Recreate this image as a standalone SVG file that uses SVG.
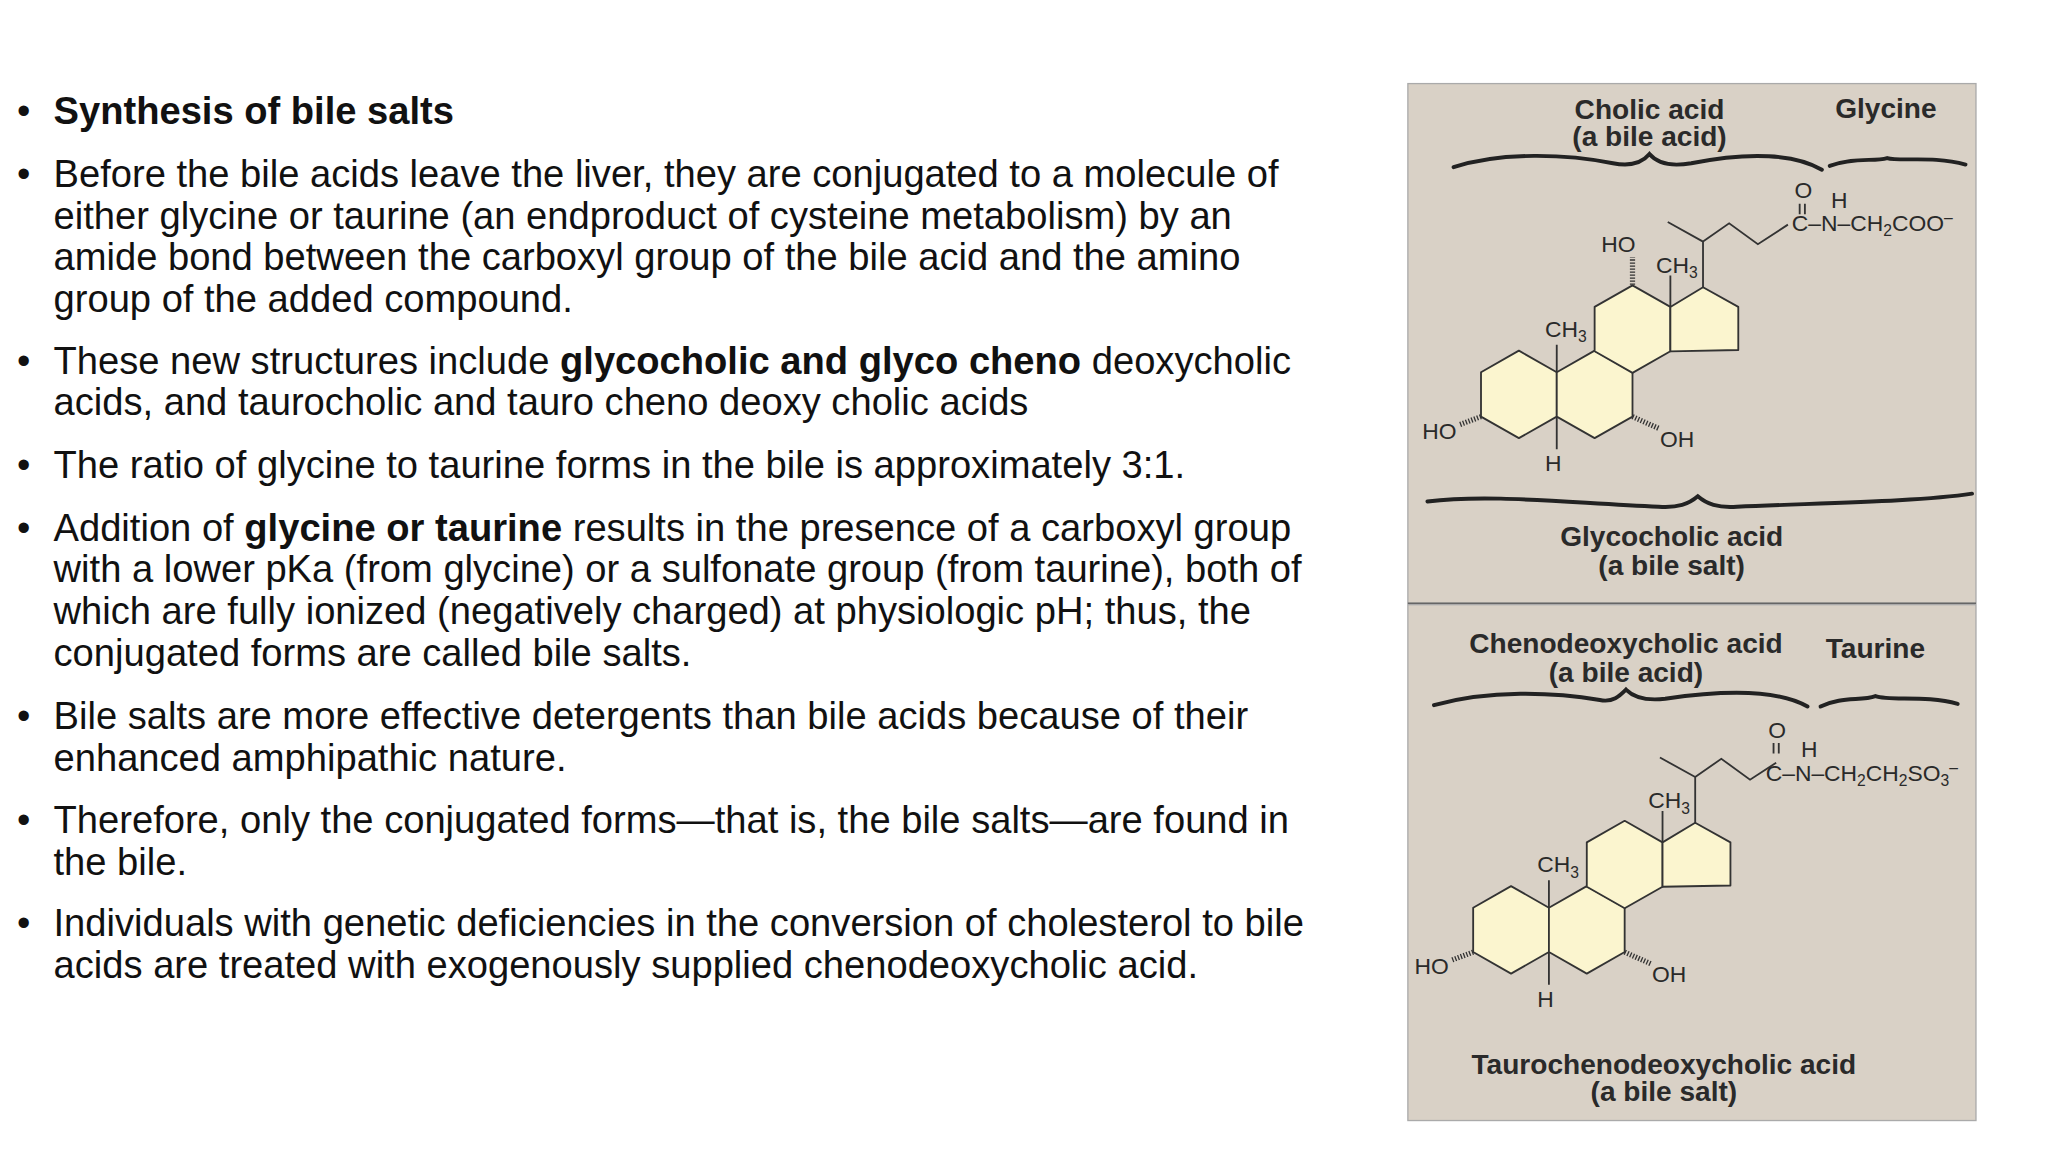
<svg xmlns="http://www.w3.org/2000/svg" width="2048" height="1152" viewBox="0 0 2048 1152">
<style>
.t{font-family:"Liberation Sans",Arial,sans-serif;font-size:29.2px;fill:#111}
.b{font-weight:bold}
.lb{font-family:"Liberation Sans",Arial,sans-serif;font-size:21.5px;font-weight:bold;fill:#2a2a2a;text-anchor:middle}
.ch{font-family:"Liberation Sans",Arial,sans-serif;font-size:17.5px;fill:#2a2a2a}
.sm{font-size:12px}
.ring{fill:#fbf5cf;stroke:#333;stroke-width:1.4;stroke-linejoin:round}
.bd{fill:none;stroke:#333;stroke-width:1.4}
.hash{fill:none;stroke:#333;stroke-width:4;stroke-dasharray:1 1.3}
.br{fill:none;stroke:#222;stroke-width:3;stroke-linecap:round}
</style>
<rect width="2048" height="1152" fill="#fff"/>
<g transform="scale(1.306)">
<g id="text">
<text class="t" x="13" y="95">•</text><text class="t b" x="41" y="95">Synthesis of bile salts</text>
<text class="t" x="13" y="143">•</text>
<text class="t" x="41" y="143">Before the bile acids leave the liver, they are conjugated to a molecule of</text>
<text class="t" x="41" y="175">either glycine or taurine (an endproduct of cysteine metabolism) by an</text>
<text class="t" x="41" y="207">amide bond between the carboxyl group of the bile acid and the amino</text>
<text class="t" x="41" y="239">group of the added compound.</text>
<text class="t" x="13" y="286">•</text>
<text class="t" x="41" y="286">These new structures include <tspan class="b">glycocholic and glyco cheno</tspan> deoxycholic</text>
<text class="t" x="41" y="318">acids, and taurocholic and tauro cheno deoxy cholic acids</text>
<text class="t" x="13" y="366">•</text>
<text class="t" x="41" y="366">The ratio of glycine to taurine forms in the bile is approximately 3:1.</text>
<text class="t" x="13" y="414">•</text>
<text class="t" x="41" y="414">Addition of <tspan class="b">glycine or taurine</tspan> results in the presence of a carboxyl group</text>
<text class="t" x="41" y="446">with a lower pKa (from glycine) or a sulfonate group (from taurine), both of</text>
<text class="t" x="41" y="478">which are fully ionized (negatively charged) at physiologic pH; thus, the</text>
<text class="t" x="41" y="510">conjugated forms are called bile salts.</text>
<text class="t" x="13" y="558">•</text>
<text class="t" x="41" y="558">Bile salts are more effective detergents than bile acids because of their</text>
<text class="t" x="41" y="590">enhanced amphipathic nature.</text>
<text class="t" x="13" y="638">•</text>
<text class="t" x="41" y="638">Therefore, only the conjugated forms—that is, the bile salts—are found in</text>
<text class="t" x="41" y="670">the bile.</text>
<text class="t" x="13" y="717">•</text>
<text class="t" x="41" y="717">Individuals with genetic deficiencies in the conversion of cholesterol to bile</text>
<text class="t" x="41" y="749">acids are treated with exogenously supplied chenodeoxycholic acid.</text>
</g>
<g id="panel-top">
<rect x="1078" y="64" width="435" height="398" fill="#d9d1c6" stroke="#aaa" stroke-width="1"/>
<text class="lb" x="1263" y="91">Cholic acid</text>
<text class="lb" x="1263" y="112">(a bile acid)</text>
<text class="lb" x="1444" y="90">Glycine</text>
<path class="br" d="M1113,128 C1150,116 1200,118 1235,125 C1250,128 1258,124 1263,118 C1268,124 1278,128 1295,125 C1340,116 1375,118 1395,130"/>
<path class="br" d="M1401,127 C1420,120 1435,124 1445,121 C1455,124 1480,119 1505,126"/>
<g id="steroid1">
<polygon class="ring" points="1163,268.5 1192,285 1192,319 1163,335.5 1134,319 1134,285"/>
<polygon class="ring" points="1221,268.5 1250,285 1250,319 1221,335.5 1192,319 1192,285"/>
<polygon class="ring" points="1250,218.5 1279,235 1279,269 1250,285.5 1221,269 1221,235"/>
<polygon class="ring" points="1279,235 1304,220 1331,235 1331,268 1279,269"/>
<path class="bd" d="M1279,235 V211 M1192,285 V264 M1192,319 V344 M1304,220 V185 L1277,170 M1304,185 L1324,171 L1346,187 L1369,172"/>
<path class="hash" d="M1250,218 V197 M1134,319 L1118,325 M1250,319 L1270,328"/>
<text class="ch" x="1226" y="193">HO</text>
<text class="ch" x="1268" y="209">CH<tspan class="sm" dy="4">3</tspan></text>
<text class="ch" x="1183" y="258">CH<tspan class="sm" dy="4">3</tspan></text>
<text class="ch" x="1183" y="361">H</text>
<text class="ch" x="1089" y="336">HO</text>
<text class="ch" x="1271" y="342">OH</text>
<text class="ch" x="1374" y="152">O</text>
<path class="bd" d="M1378,156 V164 M1382,156 V164"/>
<text class="ch" x="1402" y="159">H</text>
<text class="ch" x="1372" y="177">C–N–CH<tspan class="sm" dy="4">2</tspan><tspan dy="-4">COO</tspan><tspan class="sm" dy="-6">–</tspan></text>
</g>
<path class="br" d="M1093,384 C1140,378 1200,385 1270,388 C1285,389 1293,386 1300,380 C1307,386 1315,389 1330,388 C1400,385 1470,384 1510,378"/>
<text class="lb" x="1280" y="418">Glycocholic acid</text>
<text class="lb" x="1280" y="440">(a bile salt)</text>
</g>
<line x1="1078" y1="462" x2="1513" y2="462" stroke="#666" stroke-width="1.5"/>
<g id="panel-bottom">
<rect x="1078" y="463" width="435" height="395" fill="#d9d1c6" stroke="#aaa" stroke-width="1"/>
<text class="lb" x="1245" y="500">Chenodeoxycholic acid</text>
<text class="lb" x="1245" y="522">(a bile acid)</text>
<text class="lb" x="1436" y="504">Taurine</text>
<path class="br" d="M1098,540 C1140,528 1190,530 1225,536 C1235,538 1240,533 1245,528 C1250,533 1258,537 1275,535 C1330,527 1365,530 1384,541"/>
<path class="br" d="M1394,541 C1410,533 1425,537 1436,533 C1447,537 1475,532 1499,539"/>
<g id="steroid2" transform="translate(-6,410)">
<polygon class="ring" points="1163,268.5 1192,285 1192,319 1163,335.5 1134,319 1134,285"/>
<polygon class="ring" points="1221,268.5 1250,285 1250,319 1221,335.5 1192,319 1192,285"/>
<polygon class="ring" points="1250,218.5 1279,235 1279,269 1250,285.5 1221,269 1221,235"/>
<polygon class="ring" points="1279,235 1304,220 1331,235 1331,268 1279,269"/>
<path class="bd" d="M1279,235 V211 M1192,285 V264 M1192,319 V344 M1304,220 V185 L1277,170 M1304,185 L1324,171 L1346,187 L1366,174"/>
<path class="hash" d="M1134,319 L1118,325 M1250,319 L1270,328"/>
<text class="ch" x="1268" y="209">CH<tspan class="sm" dy="4">3</tspan></text>
<text class="ch" x="1183" y="258">CH<tspan class="sm" dy="4">3</tspan></text>
<text class="ch" x="1183" y="361">H</text>
<text class="ch" x="1089" y="336">HO</text>
<text class="ch" x="1271" y="342">OH</text>
<text class="ch" x="1360" y="155">O</text>
<path class="bd" d="M1364,159 V167 M1368,159 V167"/>
<text class="ch" x="1385" y="170">H</text>
<text class="ch" x="1358" y="188">C–N–CH<tspan class="sm" dy="4">2</tspan><tspan dy="-4">CH</tspan><tspan class="sm" dy="4">2</tspan><tspan dy="-4">SO</tspan><tspan class="sm" dy="4">3</tspan><tspan class="sm" dy="-10">–</tspan></text>
</g>
<text class="lb" x="1274" y="822">Taurochenodeoxycholic acid</text>
<text class="lb" x="1274" y="843">(a bile salt)</text>
</g>
</g>
</svg>
